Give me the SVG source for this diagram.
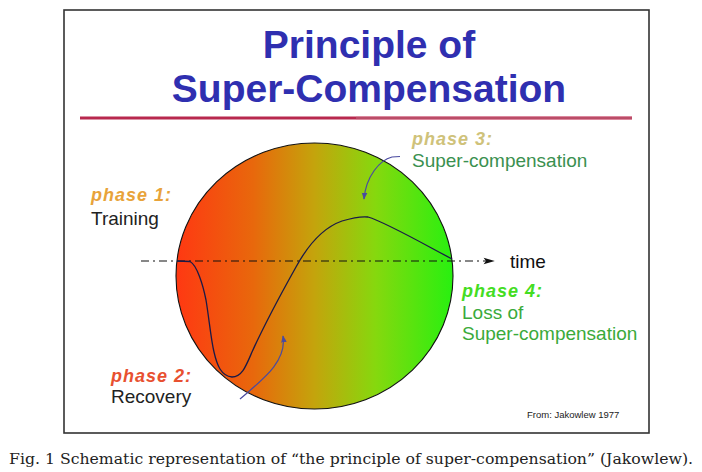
<svg xmlns="http://www.w3.org/2000/svg" width="702" height="472" viewBox="0 0 702 472">
  <style>
    .title { font-family: "Liberation Sans", Arial, sans-serif; font-weight: bold; font-size: 39px; fill: #2f2fb0; text-anchor: middle; }
    .ph { font-family: "Liberation Sans", Arial, sans-serif; font-weight: bold; font-style: italic; font-size: 18px; letter-spacing: 1px; }
    .lbl { font-family: "Liberation Sans", Arial, sans-serif; font-size: 19px; }
    .src { font-family: "Liberation Sans", Arial, sans-serif; font-size: 9.5px; fill: #222; }
    .cap { font-family: "DejaVu Serif", "Liberation Serif", serif; font-size: 15px; fill: #222; }
    .ptr { fill: none; stroke: #4a4aa0; stroke-width: 1.2; }
  </style>
  <defs>
    <linearGradient id="grad" x1="0" y1="0" x2="1" y2="0">
      <stop offset="0" stop-color="#ff3812"/>
      <stop offset="0.28" stop-color="#e8680c"/>
      <stop offset="0.5" stop-color="#c4a40c"/>
      <stop offset="0.72" stop-color="#86d80e"/>
      <stop offset="1" stop-color="#28f010"/>
    </linearGradient>
    <marker id="ah" viewBox="0 0 10 10" refX="9" refY="5" markerWidth="7" markerHeight="7" orient="auto" markerUnits="userSpaceOnUse">
      <path d="M0,1 L10,5 L0,9 z" fill="#4a4aa0"/>
    </marker>
    <marker id="tah" viewBox="0 0 14 10" refX="13" refY="5" markerWidth="14" markerHeight="8" orient="auto" markerUnits="userSpaceOnUse">
      <path d="M0,1 L14,5 L0,9 L3,5 z" fill="#111"/>
    </marker>
  </defs>

  <rect x="0" y="0" width="702" height="472" fill="#ffffff"/>

  <g id="frame">
    <rect x="64" y="10" width="585" height="423" fill="#ffffff" stroke="#333" stroke-width="1.6"/>
  </g>

  <g id="title">
    <text class="title" x="369" y="58">Principle of</text>
    <text class="title" x="369" y="102">Super-Compensation</text>
    <line x1="80" y1="118" x2="356" y2="118" stroke="#b8284e" stroke-width="3"/>
    <line x1="356" y1="118" x2="632" y2="118" stroke="#d0607e" stroke-width="3.4"/>
    <line x1="356" y1="118" x2="632" y2="118" stroke="#9a3048" stroke-width="0.8"/>
  </g>

  <g id="circle">
    <ellipse cx="314.5" cy="276" rx="138.5" ry="133" fill="url(#grad)" stroke="#111" stroke-width="1.1"/>
  </g>

  <g id="connectors">
    <line id="time-axis" x1="141" y1="261" x2="494" y2="261" stroke="#111" stroke-width="1.2" stroke-dasharray="8 4 2 4" marker-end="url(#tah)"/>
    <path id="curve" d="M177,261 L190,261.5 C197,265 203,285 206,300 C209,318 211,340 214,352 C217,365 221,376 232,377 C242,377 246,366 252,352 C262,330 282,292 296,267 C308,245 322,228 342,221 C352,218 360,216 368,217 C385,222 420,242 452,259" fill="none" stroke="#1a1a48" stroke-width="1.3"/>
    <path id="ptr3" class="ptr" d="M400,156.5 L392,157 C380,160 366,176 364,199" marker-end="url(#ah)"/>
    <path id="ptr2" class="ptr" d="M240,399 C262,380 287,362 283,336" marker-end="url(#ah)"/>
  </g>

  <g id="phase1">
    <text class="ph" x="91" y="201" fill="#e8a33a">phase 1:</text>
    <text class="lbl" x="91" y="225" fill="#222">Training</text>
  </g>
  <g id="phase2">
    <text class="ph" x="111" y="382" fill="#e85030">phase 2:</text>
    <text class="lbl" x="111" y="403" fill="#222">Recovery</text>
  </g>
  <g id="phase3">
    <text class="ph" x="412" y="145" fill="#cfc27a">phase 3:</text>
    <text class="lbl" x="412" y="167" fill="#3a9050">Super-compensation</text>
  </g>
  <g id="time">
    <text class="lbl" x="510" y="268" fill="#111">time</text>
  </g>
  <g id="phase4">
    <text class="ph" x="462" y="297" fill="#44dd22">phase 4:</text>
    <text class="lbl" x="462" y="319" fill="#3aaa3a">Loss of</text>
    <text class="lbl" x="462" y="340" fill="#3aaa3a">Super-compensation</text>
  </g>
  <g id="source">
    <text class="src" x="527" y="418">From: Jakowlew 1977</text>
  </g>
  <g id="caption">
    <text class="cap" x="9" y="464" textLength="684" lengthAdjust="spacingAndGlyphs">Fig. 1 Schematic representation of “the principle of super-compensation” (Jakowlew).</text>
  </g>
</svg>
